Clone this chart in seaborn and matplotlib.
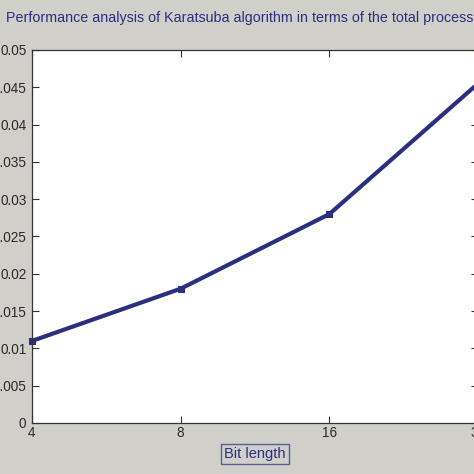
import numpy as np
import pandas as pd
import matplotlib
matplotlib.use("Agg")
import matplotlib.pyplot as plt
import matplotlib.ticker as ticker
import seaborn as sns

bit_length = ["4", "8", "16", "32"]
total_time = [0.011, 0.018, 0.028, 0.0455]
y_ticks = np.arange(0, 0.0501, 0.005)

title = "Performance analysis of Karatsuba algorithm in terms of the total processing time"

sns.set_style("ticks")
plt.rcParams["font.family"] = ["Liberation Sans", "DejaVu Sans"]

df = pd.DataFrame({"Bit length": bit_length, "Time": total_time})

fig = plt.figure(figsize=(4.74, 4.74), dpi=100, facecolor="#d1cfca")
ax = fig.add_axes([0.0675, 0.1076, 0.941, 0.787])
ax.set_facecolor("white")

line_col = "#2b2f80"
sns.lineplot(data=df, x="Bit length", y="Time", ax=ax, color=line_col,
             linewidth=3, marker="s", markersize=5, markeredgecolor=line_col,
             sort=False, clip_on=False)

ax.set_xlim(0, 3)
ax.set_ylim(0, 0.05)
ax.set_yticks(y_ticks)
ax.yaxis.set_major_formatter(ticker.FuncFormatter(lambda v, p: "%g" % round(v, 4)))
ax.tick_params(direction="in", length=5, width=0.8, colors="#333333",
               labelsize=9.8, top=True, right=True, labelcolor="#2a2a2a")
ax.tick_params(axis="x", pad=2)
ax.tick_params(axis="y", pad=4)
for s in ax.spines.values():
    s.set_color("#333333")
    s.set_linewidth(0.9)

ax.set_xlabel("Bit length", fontsize=10.5, color="#2b2f80", labelpad=5,
              bbox=dict(boxstyle="square,pad=0.2", facecolor="#d1cfca",
                        edgecolor="#5a5f9a", linewidth=1))
ax.set_ylabel("")

fig.text(0.012, 0.963, title, fontsize=10.3, color="#2b2f80",
         ha="left", va="center")

fig.savefig("out.png", dpi=100, facecolor=fig.get_facecolor())
